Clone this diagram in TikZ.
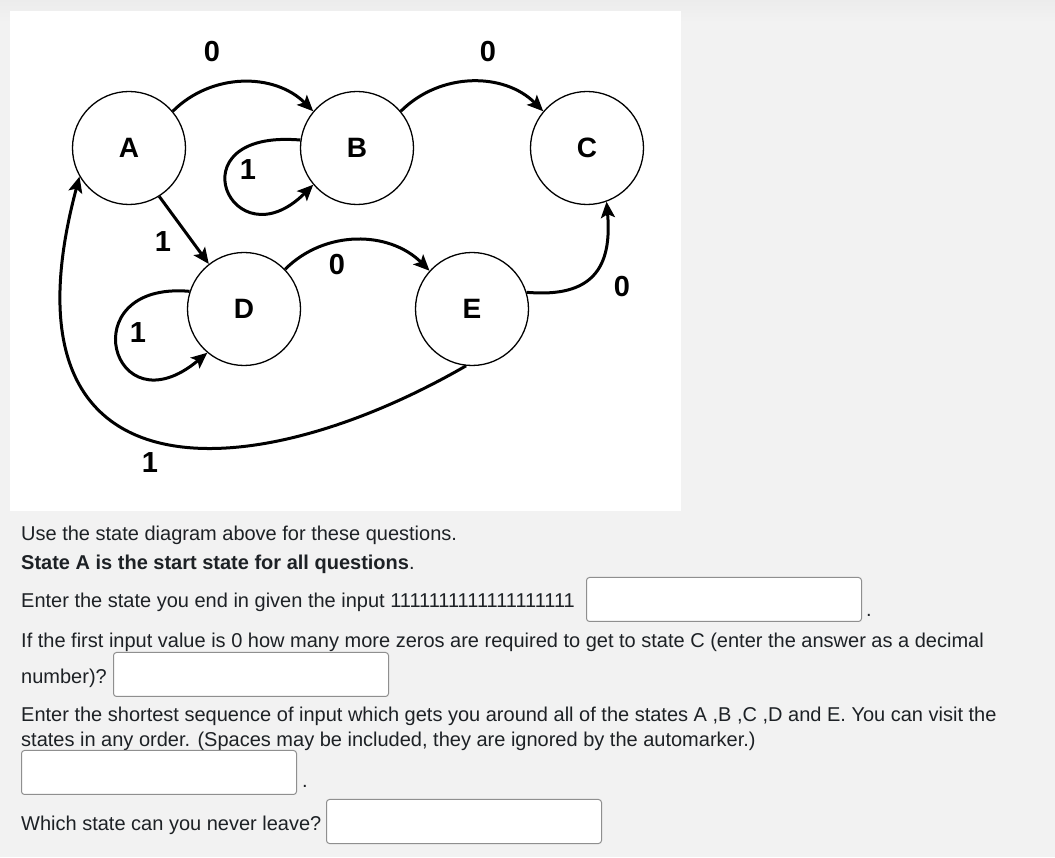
\documentclass[tikz,border=0pt]{standalone}
\usepackage{fontspec}
\setmainfont{Liberation Sans}
\usetikzlibrary{positioning, arrows.meta}

\definecolor{pagebg}{RGB}{242,242,242}
\definecolor{pagetop}{RGB}{236,236,236}
\definecolor{boxline}{RGB}{143,143,143}
\definecolor{qtext}{RGB}{29,33,37}

\begin{document}
\begin{tikzpicture}[x=1pt, y=1pt, >={Stealth[length=16pt, width=14pt, inset=3.5pt]},
        state/.style={circle, draw, line width=1.3pt, minimum size=113pt, inner sep=0pt,
            font=\fontsize{28}{30}\selectfont\bfseries},
        trans/.style={->, line width=3pt},
        lbl/.style={inner sep=0pt, font=\fontsize{29}{31}\selectfont\bfseries},
        qtxt/.style={anchor=base west, inner sep=0pt, text=qtext, font=\fontsize{20}{24}\selectfont},
        inbox/.style={draw=boxline, fill=white, line width=1pt, rounded corners=3pt,
            minimum width=275pt, minimum height=44pt, anchor=south west, inner sep=0pt}]
    \useasboundingbox (0,0) rectangle (1055,857);
    \fill[pagebg] (0,0) rectangle (1055,857);
    \fill[top color=pagetop, bottom color=pagebg] (0,835) rectangle (1055,857);
    \fill[white] (10,346) rectangle (681,846);

    % states
    \node[state] (A) at (129,709) {A};
    \node[state] (B) at (357,709) {B};
    \node[state] (C) at (587,709) {C};
    \node[state] (D) at (244,548) {D};
    \node[state] (E) at (472,548) {E};

    % transitions
    \draw[trans] (A.40) to[out=45, in=135] (B.140);
    \draw[trans] (B.40) to[out=45, in=135] (C.140);
    \draw[trans] (B.172) to[out=175, in=225, out distance=130, in distance=115] (B.220);
    \draw[trans] (A.-58) -- (D.128);
    \draw[trans] (D.44) to[out=45, in=135] (E.138);
    \draw[trans] (D.162) to[out=175, in=220, out distance=120, in distance=125] (D.230);
    \draw[trans] (E.17) to[out=-5, in=-85, looseness=1.4] (C.-70);
    \draw[trans] (E.-96) to[out=-150, in=-105, out distance=250, in distance=340] (A.210);

    % input symbols
    \node[lbl] (ab) at (212,805) {0};
    \node[lbl] (bc) at (488,805) {0};
    \node[lbl] (bb) at (248,687) {1};
    \node[lbl] (ad) at (163,615) {1};
    \node[lbl] (de) at (337,592) {0};
    \node[lbl] (ec) at (622,570) {0};
    \node[lbl] (dd) at (138,524) {1};
    \node[lbl] (ea) at (150,394) {1};

    % questions
    \node[qtxt] (q0) at (21,316) {Use the state diagram above for these questions.};
    \node[qtxt] (q0b) at (21,287) {\textbf{State A is the start state for all questions}.};
    \node[qtxt] (q1) at (21,249) {Enter the state you end in given the input 1111111111111111111};
    \node[inbox] (box1) at (586,235) {};
    \node[qtxt] (dot1) at (866,240) {.};
    \node[qtxt] (q2) at (21,209) {If the first input value is 0 how many more zeros are required to get to state C (enter the answer as a decimal};
    \node[qtxt] (q2b) at (21,173) {number)?};
    \node[inbox] (box2) at (113,160) {};
    \node[qtxt] (q3) at (21,135) {Enter the shortest sequence of input which gets you around all of the states A ,B ,C ,D and E. You can visit the};
    \node[qtxt] (q3b) at (21,110) {states in any order. (Spaces may be included, they are ignored by the automarker.)};
    \node[inbox] (box3) at (21,62) {};
    \node[qtxt] (dot3) at (302,70) {.};
    \node[qtxt] (q4) at (21,27) {Which state can you never leave?};
    \node[inbox] (box4) at (326,13) {};
\end{tikzpicture}
\end{document}
